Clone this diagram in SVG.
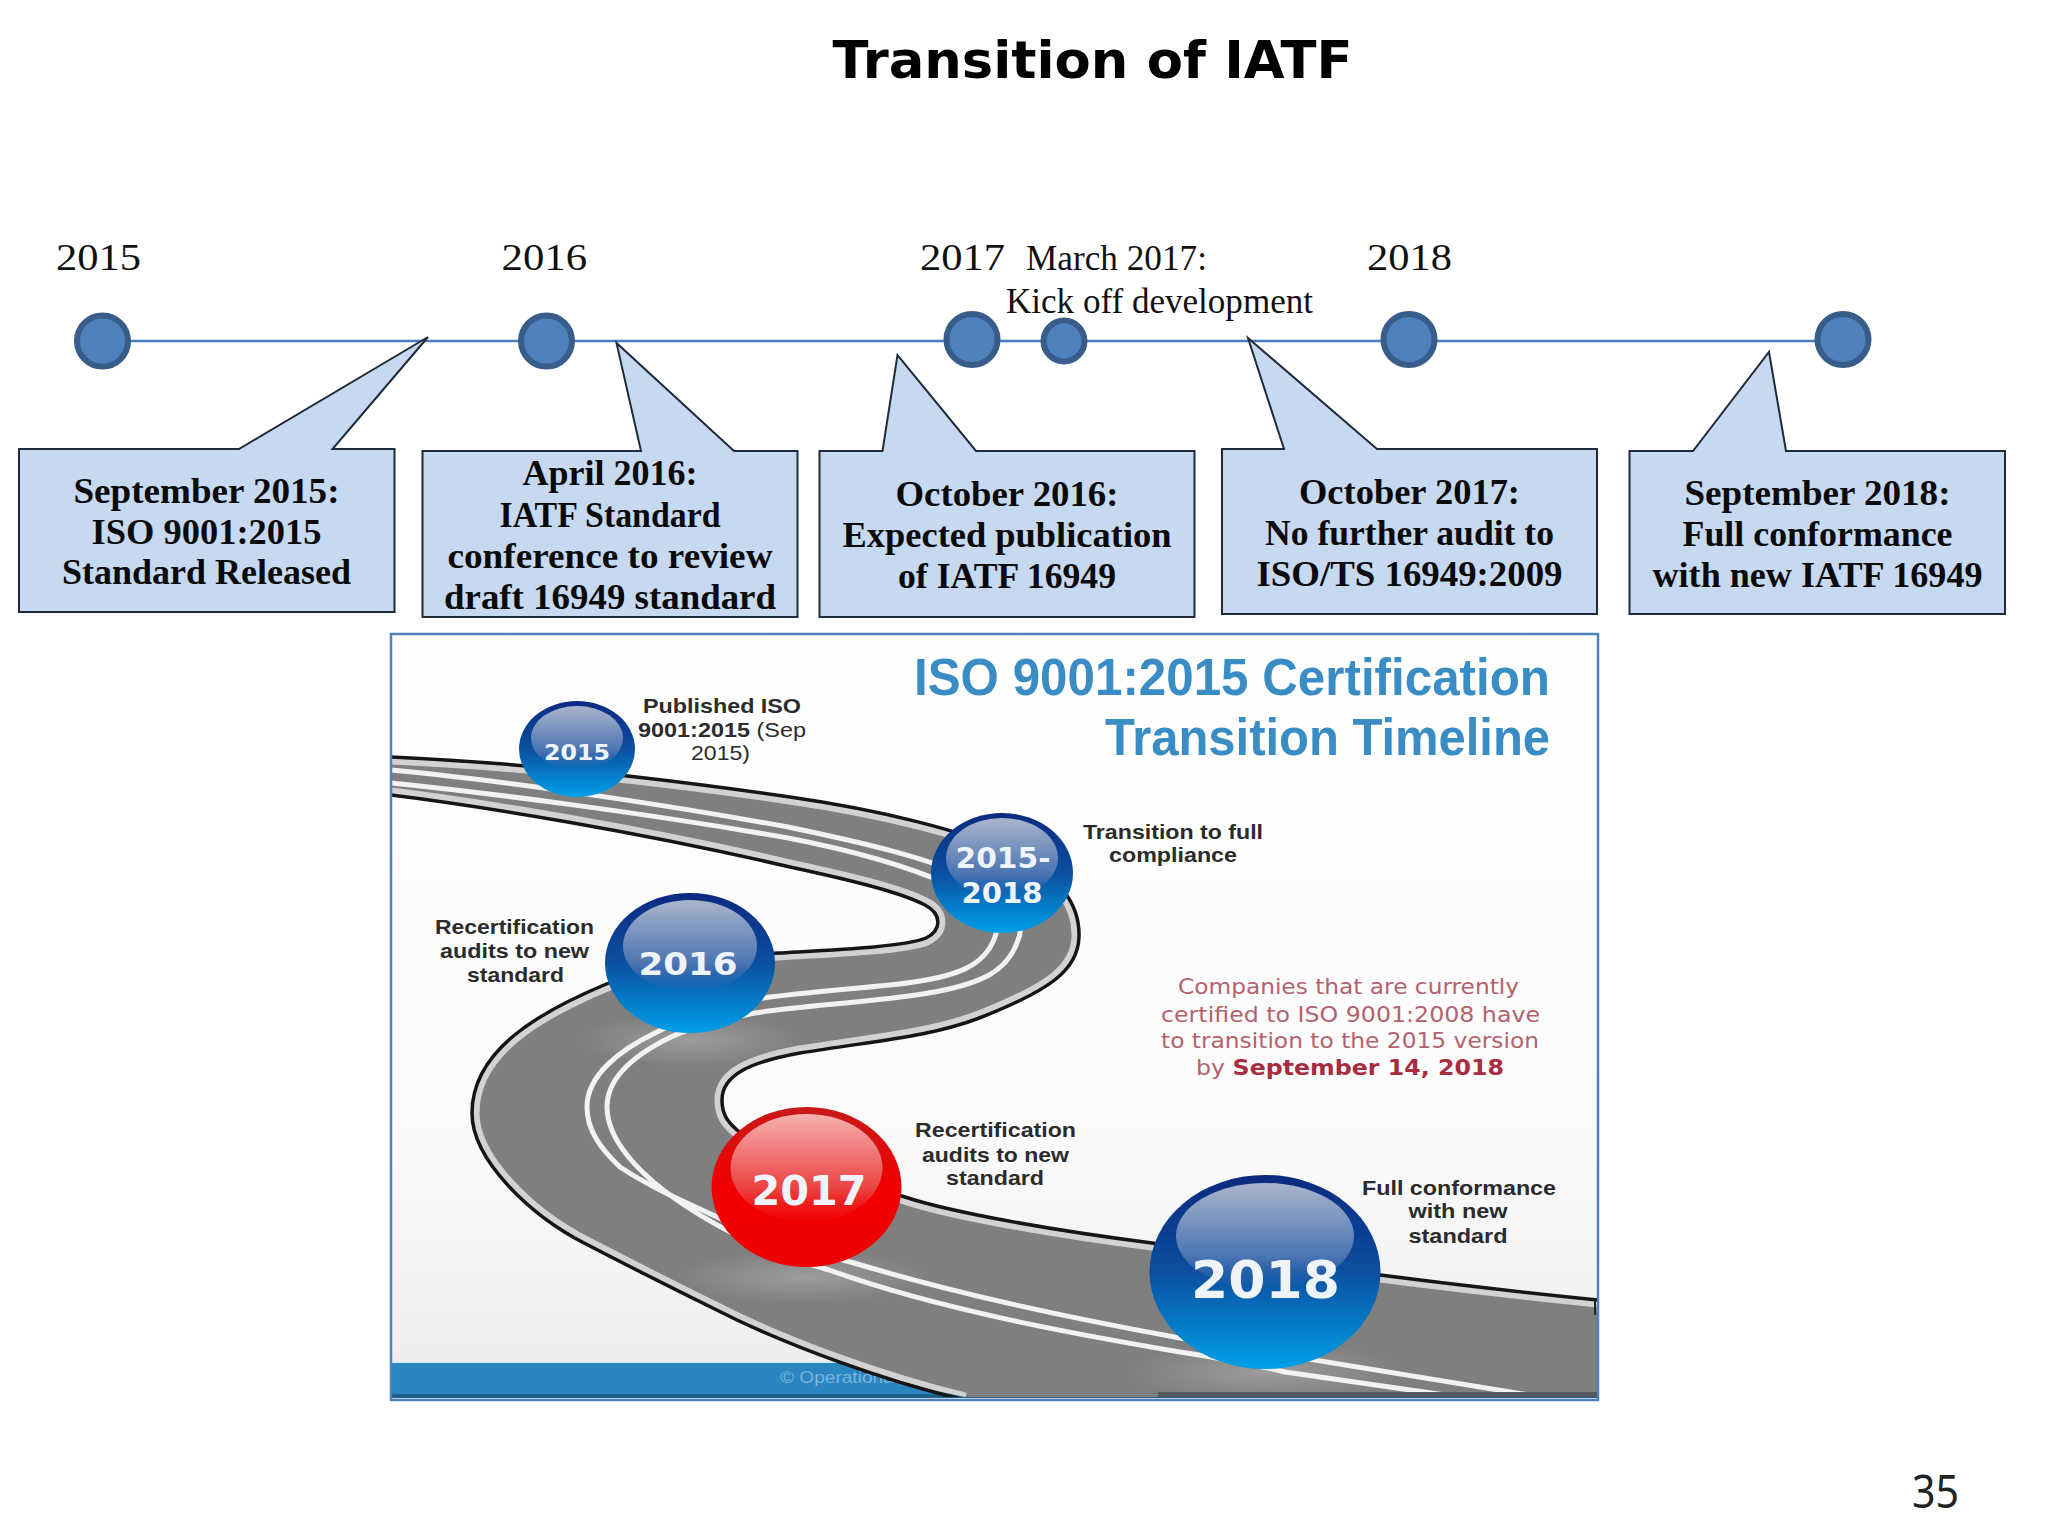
<svg xmlns="http://www.w3.org/2000/svg" width="2048" height="1536" viewBox="0 0 2048 1536">
<style>
.yr{font-family:"Liberation Serif",serif;font-size:38px;fill:#111}
.sm{font-family:"Liberation Serif",serif;font-size:35px;fill:#111}
.co{font-family:"Liberation Serif",serif;font-weight:bold;font-size:36px;fill:#0a0a0a;text-anchor:middle}
.box{fill:#c6d9f1;stroke:#1f2a3a;stroke-width:2}
.dot{fill:#4f81bd;stroke:#385d8a;stroke-width:6}
.lbl{font-family:"Liberation Sans",sans-serif;font-weight:bold;font-size:21px;fill:#2b2b2b;text-anchor:middle}
.ttl{font-family:"Liberation Sans",sans-serif;font-weight:bold;font-size:52px;fill:#3a8cc4}
.red{font-family:"DejaVu Sans",sans-serif;font-size:22px;fill:#b4626c;text-anchor:middle}
.ball{font-family:"DejaVu Sans",sans-serif;font-weight:bold;fill:#eef4fa;text-anchor:middle}
.wl{fill:none;stroke:#f2f2f2;stroke-width:5}
.blk{fill:none;stroke:#151515;stroke-width:3.5}
.gry{fill:none;stroke:#d2d2d2;stroke-width:15}
</style>
<defs>
<linearGradient id="bg" x1="0" y1="0" x2="0" y2="1"><stop offset="0" stop-color="#ffffff"/><stop offset="0.65" stop-color="#fbfbfb"/><stop offset="1" stop-color="#ececec"/></linearGradient>
<linearGradient id="blue" x1="0" y1="0" x2="0" y2="1"><stop offset="0" stop-color="#0a2a80"/><stop offset="0.5" stop-color="#0b4fa0"/><stop offset="1" stop-color="#00a0e8"/></linearGradient>
<linearGradient id="bhi" x1="0" y1="0" x2="0" y2="1"><stop offset="0" stop-color="#aab4cc"/><stop offset="0.7" stop-color="#4a74b2"/><stop offset="1" stop-color="#2f66ae" stop-opacity="0"/></linearGradient>
<linearGradient id="redg" x1="0" y1="0" x2="0" y2="1"><stop offset="0" stop-color="#c81818"/><stop offset="0.5" stop-color="#f20000"/><stop offset="1" stop-color="#f00000"/></linearGradient>
<linearGradient id="rhi" x1="0" y1="0" x2="0" y2="1"><stop offset="0" stop-color="#f6b0b0"/><stop offset="0.7" stop-color="#ec4040"/><stop offset="1" stop-color="#ec2a2a" stop-opacity="0"/></linearGradient>
<radialGradient id="sh"><stop offset="0" stop-color="#b0b0b0" stop-opacity="0.6"/><stop offset="1" stop-color="#b0b0b0" stop-opacity="0"/></radialGradient>
<path id="e1" d="M391 757 C500 762 640 775 790 797 C880 810 960 830 1010 852 C1060 875 1080 905 1079 937 C1078 970 1050 990 982 1017 C930 1037 880 1040 800 1053 C750 1062 722 1075 722 1100 C722 1115 728 1122 737 1130 C780 1165 850 1180 905 1197 C950 1212 1050 1230 1152 1243 C1250 1258 1420 1282 1598 1300"/>
<path id="e2" d="M391 795 C480 806 640 832 790 867 C850 880 900 892 925 905 C942 914 942 930 926 938 C905 947 830 950 778 953 C700 958 650 965 604 985 C540 1012 472 1050 472 1113 C472 1160 530 1215 584 1243 C640 1272 690 1297 737 1320 C790 1345 880 1380 965 1400"/>
<clipPath id="road"><path d="M391 757 C500 762 640 775 790 797 C880 810 960 830 1010 852 C1060 875 1080 905 1079 937 C1078 970 1050 990 982 1017 C930 1037 880 1040 800 1053 C750 1062 722 1075 722 1100 C722 1115 728 1122 737 1130 C780 1165 850 1180 905 1197 C950 1212 1050 1230 1152 1243 C1250 1258 1420 1282 1598 1300 L1598 1397 L965 1397 C880 1380 790 1345 737 1320 C690 1297 640 1272 584 1243 C530 1215 472 1160 472 1113 C472 1050 540 1012 604 985 C650 965 700 958 778 953 C830 950 905 947 926 938 C942 930 942 914 925 905 C900 892 850 880 790 867 C640 832 480 806 391 795 Z"/></clipPath>
<clipPath id="frame"><rect x="391" y="634" width="1207" height="763"/></clipPath>
</defs>
<rect width="2048" height="1536" fill="#ffffff"/>
<text id="title" x="832.5" y="78" textLength="520" lengthAdjust="spacingAndGlyphs" style="font-family:'DejaVu Sans',sans-serif;font-weight:bold;font-size:51px;fill:#000">Transition of IATF</text>
<g id="connectors"><line x1="102" y1="341" x2="1843" y2="341" stroke="#4a7ebb" stroke-width="2.5"/></g>
<g id="year-labels">
<text class="yr" x="56" y="270" textLength="85" lengthAdjust="spacingAndGlyphs">2015</text>
<text class="yr" x="501.5" y="270" textLength="85.5" lengthAdjust="spacingAndGlyphs">2016</text>
<text class="yr" x="920" y="270" textLength="85" lengthAdjust="spacingAndGlyphs">2017</text>
<text class="yr" x="1367" y="270" textLength="85" lengthAdjust="spacingAndGlyphs">2018</text>
<text class="sm" x="1026" y="270" textLength="181" lengthAdjust="spacingAndGlyphs">March 2017:</text>
<text class="sm" x="1006" y="313" textLength="307" lengthAdjust="spacingAndGlyphs">Kick off development</text>
</g>
<g id="node-1"><circle class="dot" cx="102.5" cy="341" r="25.5"/></g>
<g id="node-2"><circle class="dot" cx="546.5" cy="341" r="25.5"/></g>
<g id="node-3"><circle class="dot" cx="972" cy="339.5" r="25.5"/></g>
<g id="node-4"><circle class="dot" cx="1064" cy="341" r="20.5"/></g>
<g id="node-5"><circle class="dot" cx="1409" cy="339.5" r="25.5"/></g>
<g id="node-6"><circle class="dot" cx="1843" cy="339.5" r="25.5"/></g>
<g id="callout-1"><path class="box" d="M19 449 H239 L428 337 L332.5 449 H394.5 V612 H19 Z"/>
<text class="co" x="206.5" y="503" textLength="266" lengthAdjust="spacingAndGlyphs">September 2015:</text>
<text class="co" x="206.5" y="544" textLength="230" lengthAdjust="spacingAndGlyphs">ISO 9001:2015</text>
<text class="co" x="206.5" y="584" textLength="289" lengthAdjust="spacingAndGlyphs">Standard Released</text></g>
<g id="callout-2"><path class="box" d="M422.5 451 H641 L616.5 343 L734 451 H797.5 V617 H422.5 Z"/>
<text class="co" x="610" y="485" textLength="175" lengthAdjust="spacingAndGlyphs">April 2016:</text>
<text class="co" x="610" y="527" textLength="221" lengthAdjust="spacingAndGlyphs">IATF Standard</text>
<text class="co" x="610" y="568" textLength="325" lengthAdjust="spacingAndGlyphs">conference to review</text>
<text class="co" x="610" y="609" textLength="332" lengthAdjust="spacingAndGlyphs">draft 16949 standard</text></g>
<g id="callout-3"><path class="box" d="M819.5 451 H882.5 L897.5 355 L976 451 H1194.5 V617 H819.5 Z"/>
<text class="co" x="1007" y="506" textLength="223" lengthAdjust="spacingAndGlyphs">October 2016:</text>
<text class="co" x="1007" y="547" textLength="329" lengthAdjust="spacingAndGlyphs">Expected publication</text>
<text class="co" x="1007" y="588" textLength="218" lengthAdjust="spacingAndGlyphs">of IATF 16949</text></g>
<g id="callout-4"><path class="box" d="M1222 449 H1284 L1248 338 L1377 449 H1597 V614 H1222 Z"/>
<text class="co" x="1409.5" y="504" textLength="221" lengthAdjust="spacingAndGlyphs">October 2017:</text>
<text class="co" x="1409.5" y="545" textLength="289" lengthAdjust="spacingAndGlyphs">No further audit to</text>
<text class="co" x="1409.5" y="586" textLength="306" lengthAdjust="spacingAndGlyphs">ISO/TS 16949:2009</text></g>
<g id="callout-5"><path class="box" d="M1629.5 451 H1693 L1769 352 L1786 451 H2005 V614 H1629.5 Z"/>
<text class="co" x="1817.5" y="505" textLength="266" lengthAdjust="spacingAndGlyphs">September 2018:</text>
<text class="co" x="1817.5" y="546" textLength="270" lengthAdjust="spacingAndGlyphs">Full conformance</text>
<text class="co" x="1817.5" y="587" textLength="330" lengthAdjust="spacingAndGlyphs">with new IATF 16949</text></g>
<g id="roadmap-picture">
<rect x="391" y="634" width="1207" height="766" fill="url(#bg)"/>
<rect x="391" y="1362" width="800" height="36" fill="#2a85c0"/>
<rect x="391" y="1361" width="800" height="2" fill="#d8eef8"/>
<rect x="391" y="1394" width="1207" height="4" fill="#1f5f8c"/>
<text x="780" y="1383" textLength="136" lengthAdjust="spacingAndGlyphs" style="font-family:'Liberation Sans',sans-serif;font-size:16px;fill:#78b4dc">© Operational E</text>
<g clip-path="url(#frame)">
<g clip-path="url(#road)">
<rect x="391" y="740" width="1207" height="660" fill="#7f7f7f"/>
<use href="#e1" class="gry"/><use href="#e2" class="gry"/>
<ellipse cx="690" cy="1040" rx="110" ry="26" fill="url(#sh)"/>
<ellipse cx="803" cy="1277" rx="125" ry="26" fill="url(#sh)"/>
<ellipse cx="1265" cy="1372" rx="135" ry="30" fill="url(#sh)"/>
</g>
<use href="#e1" class="blk"/><use href="#e2" class="blk"/>
<path class="wl" d="M391 770 C480 778 640 800 788 827 C860 842 930 858 975 880 C1015 900 1025 925 1018 940 C1008 970 985 985 916 995 C860 1003 800 1006 755 1013 C720 1020 690 1028 671 1037 C640 1052 607 1075 607 1107 C607 1140 640 1185 732 1233 C760 1248 800 1262 829 1270 C940 1310 1080 1335 1180 1352 C1220 1358 1260 1366 1285 1372 L1480 1400"/>
<path class="wl" d="M391 783 C480 792 640 812 788 838 C850 850 905 865 950 885 C990 905 1000 925 995 937 C985 965 960 978 890 985 C840 990 800 993 763 998 C720 1005 690 1015 655 1033 C620 1050 587 1075 587 1107 C587 1130 600 1148 620 1167 C650 1187 685 1202 717 1217 C760 1237 810 1252 854 1263 C960 1295 1080 1320 1180 1338 C1260 1352 1400 1375 1560 1400"/>
</g>
<line x1="1595" y1="1300" x2="1595" y2="1315" stroke="#222" stroke-width="2"/>
<rect x="1158" y="1392" width="440" height="5" fill="#555a5e"/>
<g id="ball-2015"><ellipse cx="577" cy="749" rx="58" ry="48" fill="url(#blue)"/><ellipse cx="577" cy="738" rx="46" ry="32" fill="url(#bhi)"/><text class="ball" x="577" y="760" font-size="22" textLength="66" lengthAdjust="spacingAndGlyphs">2015</text></g>
<g id="ball-2015-2018"><ellipse cx="1002" cy="873" rx="71" ry="60" fill="url(#blue)"/><ellipse cx="1002" cy="858" rx="56" ry="40" fill="url(#bhi)"/><text class="ball" x="1003" y="868" font-size="28" textLength="95" lengthAdjust="spacingAndGlyphs">2015-</text><text class="ball" x="1002" y="903" font-size="28" textLength="81" lengthAdjust="spacingAndGlyphs">2018</text></g>
<g id="ball-2016"><ellipse cx="690" cy="963" rx="85" ry="70" fill="url(#blue)"/><ellipse cx="690" cy="946" rx="67" ry="46" fill="url(#bhi)"/><text class="ball" x="688" y="975" font-size="32" textLength="99" lengthAdjust="spacingAndGlyphs">2016</text></g>
<g id="ball-2017"><ellipse cx="806.5" cy="1187" rx="95" ry="80" fill="url(#redg)"/><ellipse cx="806.5" cy="1168" rx="76" ry="54" fill="url(#rhi)"/><text class="ball" x="809" y="1205" font-size="40" textLength="115" lengthAdjust="spacingAndGlyphs">2017</text></g>
<g id="ball-2018"><ellipse cx="1265" cy="1272" rx="115.5" ry="97" fill="url(#blue)"/><ellipse cx="1265" cy="1236" rx="89" ry="53" fill="url(#bhi)"/><text class="ball" x="1265.5" y="1298" font-size="52" textLength="149" lengthAdjust="spacingAndGlyphs">2018</text></g>
<text class="ttl" x="914" y="695" textLength="636" lengthAdjust="spacingAndGlyphs">ISO 9001:2015 Certification</text>
<text class="ttl" x="1105" y="755" textLength="445" lengthAdjust="spacingAndGlyphs">Transition Timeline</text>
<text class="lbl" x="722" y="713" textLength="158" lengthAdjust="spacingAndGlyphs">Published ISO</text>
<text class="lbl" x="722" y="737" textLength="168" lengthAdjust="spacingAndGlyphs">9001:2015<tspan font-weight="normal"> (Sep</tspan></text>
<text class="lbl" x="720.5" y="760" style="font-weight:normal" textLength="59" lengthAdjust="spacingAndGlyphs">2015)</text>
<text class="lbl" x="1173" y="839" textLength="180" lengthAdjust="spacingAndGlyphs">Transition to full</text>
<text class="lbl" x="1173" y="862" textLength="128" lengthAdjust="spacingAndGlyphs">compliance</text>
<text class="lbl" x="514.5" y="934" textLength="159" lengthAdjust="spacingAndGlyphs">Recertification</text>
<text class="lbl" x="514.5" y="958" textLength="149" lengthAdjust="spacingAndGlyphs">audits to new</text>
<text class="lbl" x="515.5" y="982" textLength="97" lengthAdjust="spacingAndGlyphs">standard</text>
<text class="lbl" x="995.5" y="1137" textLength="161" lengthAdjust="spacingAndGlyphs">Recertification</text>
<text class="lbl" x="995.5" y="1162" textLength="147" lengthAdjust="spacingAndGlyphs">audits to new</text>
<text class="lbl" x="995" y="1185" textLength="98" lengthAdjust="spacingAndGlyphs">standard</text>
<text class="lbl" x="1459" y="1195" textLength="194" lengthAdjust="spacingAndGlyphs">Full conformance</text>
<text class="lbl" x="1458" y="1218" textLength="99" lengthAdjust="spacingAndGlyphs">with new</text>
<text class="lbl" x="1458" y="1243" textLength="99" lengthAdjust="spacingAndGlyphs">standard</text>
<text class="red" x="1348.5" y="994" textLength="341" lengthAdjust="spacingAndGlyphs">Companies that are currently</text>
<text class="red" x="1350.5" y="1022" textLength="379" lengthAdjust="spacingAndGlyphs">certified to ISO 9001:2008 have</text>
<text class="red" x="1350" y="1048" textLength="378" lengthAdjust="spacingAndGlyphs">to transition to the 2015 version</text>
<text class="red" x="1350" y="1075" textLength="308" lengthAdjust="spacingAndGlyphs">by <tspan font-weight="bold" fill="#a82c40">September 14, 2018</tspan></text>
<rect x="391" y="634" width="1207" height="766" fill="none" stroke="#4f81bd" stroke-width="2.5"/>
</g>
<text id="page-number" x="1912" y="1508" textLength="47" lengthAdjust="spacingAndGlyphs" style="font-family:'Noto Sans',sans-serif;font-size:45px;fill:#222">35</text>
</svg>
